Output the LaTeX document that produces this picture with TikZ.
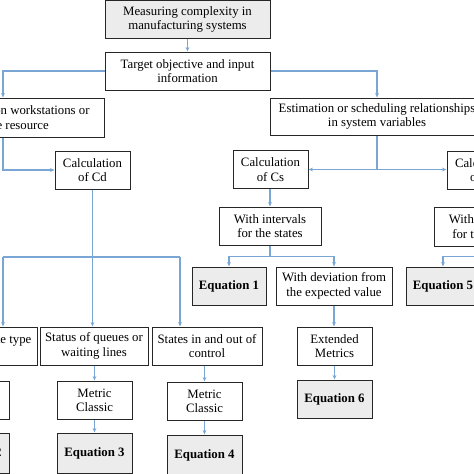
\documentclass[tikz,border=0pt]{standalone}
\usepackage{fontspec}
\setmainfont{Liberation Serif}
\usetikzlibrary{arrows.meta}
\definecolor{linkblue}{RGB}{122,166,214}
\definecolor{eqgray}{RGB}{236,236,236}
\definecolor{boxline}{RGB}{38,38,38}
\tikzset{
	box/.style={draw=boxline, line width=1pt, fill=white, align=center, inner sep=0pt, minimum height=38pt, font=\fontsize{12.8}{14.3}\selectfont},
	eqbox/.style={box, fill=eqgray, font=\fontsize{12.8}{14.3}\selectfont\bfseries},
	wire/.style={draw=linkblue, line width=1.2pt},
	link/.style={wire, -{Stealth[length=4.5pt, width=3.8pt]}}
}

\begin{document}
\begin{tikzpicture}[x=1pt, y=-1pt]
			%%%%% START %%%%%
			\useasboundingbox (0, 0) rectangle (474, 474);
			\clip (0, 0) rectangle (474, 474);
			
			\node[box, fill=eqgray, minimum width=165pt, minimum height=37.5pt] (measure) at (187.5, 19.25) {Measuring complexity in\\manufacturing systems};
			\node[box, minimum width=165pt] (target) at (187.5, 71) {Target objective and input\\information};
			
			\node[box, minimum width=202pt, minimum height=39pt] (workst) at (3, 117.5) {Measurements on workstations or\\the same resource};
			\node[box, minimum width=214pt, minimum height=37pt] (estim) at (377, 116.5) {Estimation or scheduling relationships\\in system variables};
			
			\node[box, minimum width=75pt] (calcCd) at (92.5, 170) {Calculation\\of Cd};
			\node[box, minimum width=75pt] (calcCs) at (270.5, 169.5) {Calculation\\of Cs};
			\node[box, minimum width=75pt] (calcCo) at (484.5, 170) {Calculation\\of Co};
			
			\node[box, minimum width=102pt] (withInt) at (270, 226) {With intervals\\for the states};
			\node[box, minimum width=102pt, minimum height=39pt] (withR) at (485, 226.5) {With intervals\\for the states};
			
			\node[eqbox, minimum width=74pt] (eqOne) at (229, 286) {Equation 1};
			\node[box, minimum width=116pt] (withDev) at (334, 286) {With deviation from\\the expected value};
			\node[eqbox, minimum width=74pt] (eqFive) at (443, 286) {Equation 5};
			
			\node[box, minimum width=75pt] (extMet) at (334.5, 346) {Extended\\Metrics};
			\node[eqbox, minimum width=75pt] (eqSix) at (334.5, 399) {Equation 6};
			
			\node[box, minimum width=108pt] (mtype) at (-17, 346) {Machine state type\\\mbox{}};
			\node[box, minimum width=108pt] (status) at (94, 346) {Status of queues or\\waiting lines};
			\node[box, minimum width=110pt] (states) at (207, 346) {States in and out of\\control};
			
			\node[box, minimum width=75pt] (metricL) at (-28.5, 400) {Metric\\Classic};
			\node[box, minimum width=75pt] (metricA) at (94.5, 400) {Metric\\Classic};
			\node[box, minimum width=75pt] (metricB) at (204.5, 401) {Metric\\Classic};
			
			\node[eqbox, minimum width=75pt, minimum height=40pt] (eqTwo) at (-28.5, 453) {Equation 2};
			\node[eqbox, minimum width=75pt, minimum height=40pt] (eqThree) at (94.5, 453) {Equation 3};
			\node[eqbox, minimum width=75pt, minimum height=40pt] (eqFour) at (204.5, 455) {Equation 4};
			
			% top of the tree
			\draw[link] (measure.south) -- (target.north);
			\draw[link] (target.west) -| (workst.north);
			\draw[link] (target.east) -| (estim.north);
			
			% left branch
			\draw[link] (workst.south) |- (calcCd.west);
			\coordinate (busL) at (3, 257);
			\coordinate (busR) at (180, 257);
			\draw[wire] (busL) -- (busR);
			\draw[link] (calcCd.south) -- (calcCd.south |- status.north);
			\draw[link] (busL) -- (busL |- mtype.north);
			\draw[link] (busR) -- (busR |- states.north);
			\draw[link] (metricL.north |- mtype.south) -- (metricL.north);
			\draw[link] (metricA.north |- status.south) -- (metricA.north);
			\draw[link] (metricB.north |- states.south) -- (metricB.north);
			\draw[link] (metricL.south) -- (eqTwo.north);
			\draw[link] (metricA.south) -- (eqThree.north);
			\draw[link] (metricB.south) -- (eqFour.north);
			
			% right branch
			\coordinate (busEs) at (estim.south |- calcCs.east);
			\draw[wire] (estim.south) -- (busEs);
			\draw[link] (busEs) -- (calcCs.east);
			\draw[link] (busEs) -- (busEs -| calcCo.west);
			\draw[link] (withInt.north |- calcCs.south) -- (withInt.north);
			\draw[link] (withR.north |- calcCo.south) -- (withR.north);
			\draw[wire] (withInt.south) -- ++(0, 11) coordinate (busInt);
			\draw[link] (busInt) -| (eqOne.north);
			\draw[link] (busInt) -| (withDev.north);
			\draw[link] (withR.south) -- ++(0, 10) -| (eqFive.north);
			\draw[link] (withDev.south) -- (extMet.north -| withDev.south);
			\draw[link] (extMet.south) -- (eqSix.north);
			
			%%%%% END %%%%%
\end{tikzpicture}
\end{document}
